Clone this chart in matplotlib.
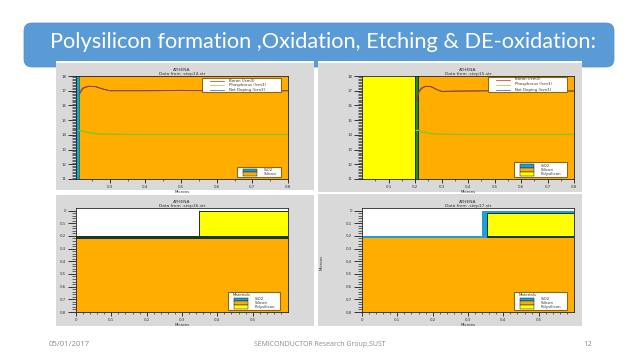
import matplotlib
matplotlib.use("Agg")
import matplotlib.pyplot as plt
from matplotlib.patches import FancyBboxPatch, Rectangle

W, H = 638, 359

TITLE = "Polysilicon formation ,Oxidation, Etching & DE-oxidation:"
FOOT_DATE = "05/01/2017"
FOOT_MID = "SEMICONDUCTOR Research Group,SUST"
FOOT_NUM = "12"

# doping profiles (log10 conc)
depth_1 = [0.215, 0.225, 0.24, 0.26, 0.28, 0.30, 0.35, 0.40, 0.50, 0.60, 0.70, 0.80]
boron_1 = [16.9, 17.2, 17.3, 17.28, 17.12, 17.0, 17.0, 17.0, 17.02, 17.0, 17.0, 17.0]
net_1 = [16.75, 17.15, 17.3, 17.28, 17.12, 17.0, 17.0, 17.0, 17.02, 17.0, 17.0, 17.0]
phos_1 = [14.3, 14.25, 14.15, 14.1, 14.05, 14.05, 14.03, 14.03, 14.03, 14.03, 14.03, 14.03]
depth_2 = [0.205, 0.215, 0.225, 0.24, 0.26, 0.28, 0.30, 0.35, 0.40, 0.50, 0.60, 0.70, 0.80]
boron_2 = [16.4, 17.0, 17.2, 17.3, 17.28, 17.1, 16.95, 16.97, 16.98, 17.0, 17.0, 17.0, 16.98]
net_2 = [16.3, 16.9, 17.15, 17.3, 17.28, 17.1, 16.95, 16.97, 16.98, 17.0, 17.0, 17.0, 16.98]
phos_2 = [14.3, 14.3, 14.2, 14.15, 14.1, 14.05, 14.05, 14.03, 14.03, 14.03, 14.03, 14.03, 14.03]

LEG_CURVES = ["Boron (/cm3)", "Phosphorus (/cm3)", "Net Doping (/cm3)"]
CURVE_COLORS = ["#D62020", "#7FD62A", "#3A4FC0"]

ORANGE = "#FFAE00"
YELLOW = "#FFFF00"
BLUE = "#1E9FD8"
DARK = "#17392C"
GREEN = "#1E8C3C"


def px(ax_bg, x0, y0, x1, y1, **kw):
    ax_bg.add_patch(Rectangle((x0, y0), x1 - x0, y1 - y0, **kw))


def make_axes(fig, x0, y0, x1, y1):
    ax = fig.add_axes([x0 / W, 1 - y1 / H, (x1 - x0) / W, (y1 - y0) / H], zorder=3)
    for s in ax.spines.values():
        s.set_linewidth(0.6)
        s.set_color("#222222")
    ax.tick_params(which="major", length=5.5, width=0.7, labelsize=2.8, pad=1.5, colors="#333333")
    ax.tick_params(which="minor", length=3, width=0.5, color="#333333")
    return ax


def doping_panel(ax, xlim, xticks, xminor, yminor, layers, depth, boron, net, phos, step):
    ax.set_xlim(*xlim)
    ax.set_ylim(11, 18)
    for x0, x1, col in layers:
        ax.axvspan(x0, x1, color=col, lw=0)
    ax.plot(depth, net, color="#3A4FC0", lw=0.7)
    ax.plot(depth, boron, color="#B03A14", lw=0.7, alpha=0.75)
    ax.plot(depth, phos, color="#8CC21E", lw=1.0)
    ax.set_xticks(xticks)
    ax.set_xticklabels([f"{t:g}" for t in xticks])
    ax.set_xticks(xminor, minor=True)
    ax.set_yticks(range(11, 19))
    ax.set_yticks(yminor, minor=True)
    ax.tick_params(axis="x", which="major", length=3)
    ax.tick_params(axis="x", which="minor", length=1.5)
    ax.set_xlabel("Microns", fontsize=2.8, labelpad=0.3, color="#333333")
    ax.set_title("ATHENA\nData from .step%d.str" % step, fontsize=3.2, pad=0.5,
                 linespacing=0.9, color="#333333")


def structure_panel(ax, xlim, xticks, xminor, ymajor, yminor, layers, step):
    ax.set_xlim(*xlim)
    ax.set_ylim(0.8, -0.02)
    ax.set_facecolor("white")
    for x0, x1, y0, y1, col in layers:
        ax.add_patch(Rectangle((x0, y0), x1 - x0, y1 - y0, fc=col, ec="none"))
    ax.set_xticks(xticks)
    ax.set_xticklabels([f"{t:g}" for t in xticks])
    ax.set_xticks(xminor, minor=True)
    ax.set_yticks(ymajor)
    ax.set_yticklabels([f"{t:g}" for t in ymajor])
    ax.set_yticks(yminor, minor=True)
    ax.tick_params(axis="x", which="major", length=3)
    ax.tick_params(axis="x", which="minor", length=1.5)
    ax.set_xlabel("Microns", fontsize=2.8, labelpad=0.3, color="#333333")
    ax.set_title("ATHENA\nData from .step%d.str" % step, fontsize=3.2, pad=0.5,
                 linespacing=0.9, color="#333333")


def curve_legend(ov, x0, y0, x1, y1):
    px(ov, x0, y0, x1, y1, fc="white", ec="#8A6A10", lw=0.8)
    dy = (y1 - y0 - 5) / 2
    for i, (name, col) in enumerate(zip(LEG_CURVES, CURVE_COLORS)):
        yy = y0 + 2.5 + i * dy
        ov.plot([x0 + 8, x0 + 22], [yy, yy], color=col, lw=0.5)
        ov.text(x0 + 27, yy, name, fontsize=2.8, va="center", color="#333333")


def material_legend(ov, x0, y0, x1, y1, names, cols, header=False):
    px(ov, x0, y0, x1, y1, fc="white", ec="#8A6A10", lw=0.8)
    top = y0 + (5.5 if header else 1.5)
    if header:
        ov.text(x0 + 5, y0 + 2.5, "Materials", fontsize=2.8, va="center", color="#333333")
    n = len(names)
    dy = (y1 - top - 1) / n
    for i, (name, col) in enumerate(zip(names, cols)):
        yy = top + i * dy
        px(ov, x0 + 6, yy, x0 + 20, yy + dy, fc=col, ec="#222222", lw=0.35)
        ov.text(x0 + 27, yy + dy / 2, name, fontsize=2.8, va="center", color="#333333")


fig = plt.figure(figsize=(W / 100, H / 100), dpi=100, facecolor="white")

# page background, title bar, grey screenshots, footer
bg = fig.add_axes([0, 0, 1, 1], zorder=1)
bg.set_xlim(0, W)
bg.set_ylim(H, 0)
bg.axis("off")
bar = FancyBboxPatch((30, 29), 578, 32, boxstyle="round,pad=6,rounding_size=8",
                     fc="#5B9BD5", ec="#4F8CC4", lw=0.5)
bg.add_patch(bar)
bg.text(50, 48, TITLE, fontsize=15.65, color="white", va="baseline", family="Lato")
px(bg, 56, 62, 314, 190, fc="#D9D9D9", ec="none")
px(bg, 318, 62, 582, 192, fc="#D9D9D9", ec="none")
px(bg, 56, 195, 314, 326, fc="#D9D9D9", ec="none")
px(bg, 318, 194, 582, 326, fc="#D9D9D9", ec="none")
px(bg, 56, 60.5, 314, 62.5, fc="white", ec="none")
px(bg, 318, 60.5, 582, 62.5, fc="white", ec="none")
bg.text(49, 345, FOOT_DATE, fontsize=5.6, color="#8C8C8C", va="center", family="Open Sans")
bg.text(320, 345, FOOT_MID, fontsize=5, color="#8C8C8C", va="center", ha="center", family="Open Sans")
bg.text(592, 345, FOOT_NUM, fontsize=5.6, color="#8C8C8C", va="center", ha="right", family="Open Sans")
bg.text(322, 262, "Microns", fontsize=2.8, rotation=90, va="center", ha="center", color="#333333")

y_minor = [11 + i / 10 for i in range(0, 71) if i % 10]
stru_major = [0, 0.1, 0.2, 0.3, 0.4, 0.5, 0.6, 0.7, 0.8]
stru_minor = [i / 50 for i in range(0, 41) if i % 5]
stru_xminor = [i / 50 for i in range(0, 31) if i % 5]

ax1 = make_axes(fig, 76, 76, 288, 179)
doping_panel(ax1, (0.2056, 0.8), [0.3, 0.4, 0.5, 0.6, 0.7, 0.8],
             [0.25, 0.35, 0.45, 0.55, 0.65, 0.75], y_minor,
             [(0.2056, 0.214, BLUE), (0.214, 0.2155, GREEN), (0.2155, 0.2175, DARK), (0.2175, 0.8, ORANGE)],
             depth_1, boron_1, net_1, phos_1, 14)

ax2 = make_axes(fig, 362, 76, 574, 179)
doping_panel(ax2, (0, 0.8), [0.1, 0.2, 0.3, 0.4, 0.5, 0.6, 0.7, 0.8],
             [0.05, 0.15, 0.25, 0.35, 0.45, 0.55, 0.65, 0.75], y_minor,
             [(0, 0.2, YELLOW), (0.2, 0.205, DARK), (0.205, 0.212, GREEN), (0.212, 0.216, DARK), (0.216, 0.8, ORANGE)],
             depth_2, boron_2, net_2, phos_2, 15)

ax3 = make_axes(fig, 76, 208, 288, 312)
structure_panel(ax3, (0, 0.6), [0, 0.1, 0.2, 0.3, 0.4, 0.5], stru_xminor, stru_major, stru_minor,
                [(0, 0.6, 0.22, 0.8, ORANGE),
                 (0, 0.6, 0.2, 0.222, DARK),
                 (0.35, 0.6, 0.01, 0.2, YELLOW),
                 (0.35, 0.6, 0.005, 0.012, DARK),
                 (0.349, 0.352, 0.005, 0.2, DARK)], 16)

ax4 = make_axes(fig, 362, 208, 574, 312)
structure_panel(ax4, (0, 0.6), [0, 0.1, 0.2, 0.3, 0.4, 0.5], stru_xminor, stru_major, stru_minor,
                [(0, 0.6, 0.215, 0.8, ORANGE),
                 (0, 0.34, 0.2, 0.215, BLUE),
                 (0.34, 0.6, 0.2, 0.215, DARK),
                 (0.34, 0.6, 0.005, 0.022, BLUE),
                 (0.34, 0.355, 0.005, 0.215, BLUE),
                 (0.358, 0.6, 0.03, 0.2, YELLOW),
                 (0.355, 0.358, 0.022, 0.21, DARK),
                 (0.355, 0.6, 0.022, 0.03, DARK)], 17)

# legends sit on top of every panel
ov = fig.add_axes([0, 0, 1, 1], zorder=5)
ov.set_xlim(0, W)
ov.set_ylim(H, 0)
ov.axis("off")
ov.patch.set_alpha(0)
curve_legend(ov, 202, 78, 281, 92)
curve_legend(ov, 488, 77, 567, 92)
material_legend(ov, 237, 167, 281, 177, ["SiO2", "Silicon"], [BLUE, ORANGE])
material_legend(ov, 514, 162, 567, 177, ["SiO2", "Silicon", "Polysilicon"], [BLUE, ORANGE, YELLOW])
material_legend(ov, 228, 292, 280, 310, ["SiO2", "Silicon", "Polysilicon"], [BLUE, ORANGE, YELLOW], header=True)
material_legend(ov, 514, 292, 567, 310, ["SiO2", "Silicon", "Polysilicon"], [BLUE, ORANGE, YELLOW], header=True)

fig.savefig("out.png", dpi=100)
